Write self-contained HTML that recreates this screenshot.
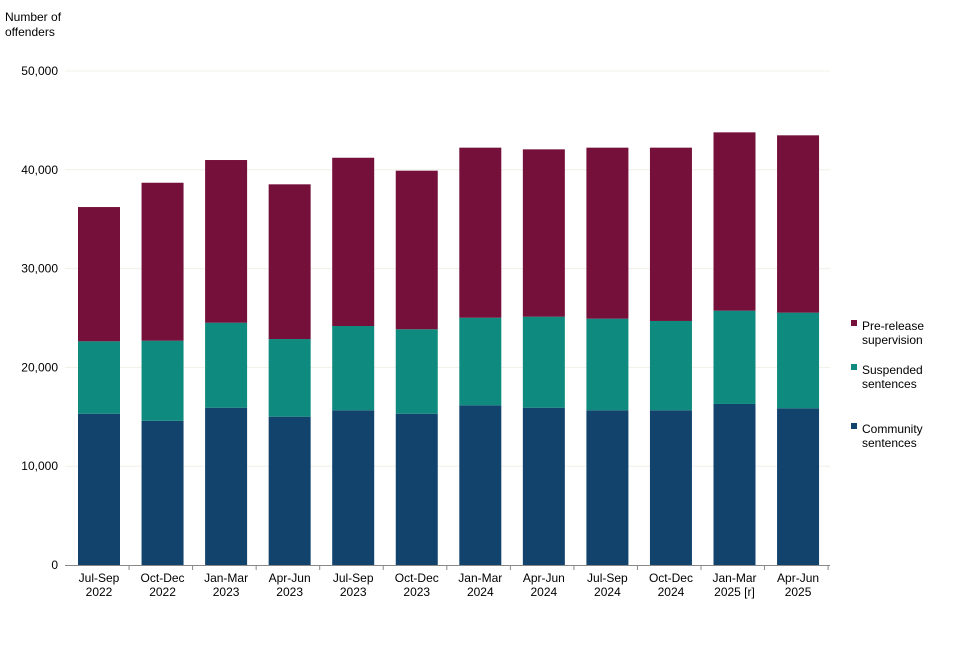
<!DOCTYPE html>
<html><head><meta charset="utf-8"><style>
body{margin:0;background:#fff;font-family:"Liberation Sans",Arial,sans-serif}
svg text{font-family:"Liberation Sans",Arial,sans-serif;font-size:12px;fill:#000}
</style></head><body>
<svg id="chart" width="960" height="640">
<text x="5" y="21">Number of</text>
<text x="5" y="36">offenders</text>
<g id="grid"></g><g id="bars"></g><g id="axes"></g><g id="legend"></g>
</svg>
<script>
const categories=[["Jul-Sep","2022"],["Oct-Dec","2022"],["Jan-Mar","2023"],["Apr-Jun","2023"],["Jul-Sep","2023"],["Oct-Dec","2023"],["Jan-Mar","2024"],["Apr-Jun","2024"],["Jul-Sep","2024"],["Oct-Dec","2024"],["Jan-Mar","2025 [r]"],["Apr-Jun","2025"]];
const community=[15310,14600,15920,15010,15660,15310,16160,15920,15660,15660,16300,15860];
const suspended=[7330,8100,8600,7860,8530,8550,8870,9210,9270,9040,9440,9680];
const prerelease=[13590,15990,16470,15660,17030,16050,17210,16940,17310,17540,18050,17950];
const yTicks=[0,10000,20000,30000,40000,50000];
const yTickLabels=["0","10,000","20,000","30,000","40,000","50,000"];
const seriesNames=[["Community","sentences"],["Suspended","sentences"],["Pre-release","supervision"]];
const colors=["#12436d","#0f8a7e","#74103a"];
const NS="http://www.w3.org/2000/svg";
const y0=565,yScale=98.8/10000,x0=65.5,step=63.55,bw=42;
const y=v=>y0-v*yScale;
const xc=i=>x0+step*(i+0.5)+(99-x0-step*0.5);
function mk(tag,attrs,parent){const e=document.createElementNS(NS,tag);for(const k in attrs)e.setAttribute(k,attrs[k]);parent.appendChild(e);return e;}
const grid=document.getElementById('grid'),bars=document.getElementById('bars'),axes=document.getElementById('axes'),legend=document.getElementById('legend');
yTicks.forEach((t,i)=>{
  if(t>0){const g=mk('line',{x1:65,x2:830,y1:y(t),y2:y(t),stroke:'#f0f0e8','stroke-width':1},grid);
  
  }
  const l=mk('text',{x:58,y:y(t)+4,'text-anchor':'end'},axes);l.textContent=yTickLabels[i];
  
  
});
const series=[community,suspended,prerelease];
categories.forEach((c,i)=>{
  let base=0;
  series.forEach((s,k)=>{
    const top=base+s[i];
    const r=mk('rect',{x:xc(i)-bw/2,y:y(top),width:bw,height:y(base)-y(top),fill:colors[k]},bars);
    
    
    base=top;
  });
  const t=mk('text',{x:xc(i),y:582,'text-anchor':'middle'},axes);t.textContent=c[0];
  
  
  const t2=mk('text',{x:xc(i),y:596,'text-anchor':'middle'},axes);t2.textContent=c[1];
  
  
  const tk=mk('line',{x1:x0+step*(i+1),x2:x0+step*(i+1),y1:565,y2:570,stroke:'#888'},axes);
  
  
});
const ax=mk('line',{x1:65,x2:830,y1:565.5,y2:565.5,stroke:'#888'},axes);


const legY=[429,370,326];
seriesNames.forEach((n,k)=>{
  const g=mk('g',{},legend);
  
  
  mk('rect',{x:851,y:legY[k]-6,width:6,height:6,fill:colors[k]},g);
  const a=mk('text',{x:862,y:legY[k]+4},g);a.textContent=n[0];
  const b=mk('text',{x:862,y:legY[k]+18},g);b.textContent=n[1];
});
</script>
</body></html>
